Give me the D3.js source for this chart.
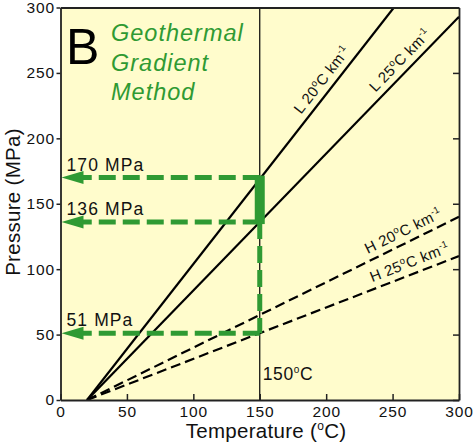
<!DOCTYPE html>
<html><head><meta charset="utf-8">
<script src="https://cdn.jsdelivr.net/npm/d3@7"></script>
<style>body{margin:0;background:#fff}svg{display:block}text{font-family:"Liberation Sans",Arial,sans-serif}</style>
</head><body><svg id="c" width="474" height="444"></svg>
<script>
// ---- data ----
const xTicks = [0, 50, 100, 150, 200, 250, 300];
const yTicks = [0, 50, 100, 150, 200, 250, 300];
const lineNames = ["L 20", "L 25", "H 20", "H 25"];
const lineStart = [[20, 0], [20, 0], [20, 0], [20, 0]];
const lineEnd = [[251, 300], [300, 293], [300, 140], [300, 110]];
const lineDashed = [false, false, true, true];
const labelT = [204, 262, 262, 266];   // temperature where each line label is centred
const refTemp = 150;
const readPressures = [170, 136, 51];
const readLabels = ["170 MPa", "136 MPa", "51 MPa"];
const titleLines = ["Geothermal", "Gradient", "Method"];

// ---- layout ----
const green = "#2f9a33";
const svg = d3.select("#c");
const m = {l: 60.5, r: 459, t: 7.5, b: 400};
const x = d3.scaleLinear().domain([0, 300]).range([m.l, m.r]);
const y = d3.scaleLinear().domain([0, 300]).range([m.b, m.t]);

svg.append("defs").append("clipPath").attr("id", "clip")
  .append("rect").attr("x", m.l).attr("y", m.t).attr("width", m.r - m.l).attr("height", m.b - m.t);

svg.append("rect").attr("x", m.l).attr("y", m.t).attr("width", m.r - m.l).attr("height", m.b - m.t)
  .attr("fill", "#fffccc");

const g = svg.append("g").attr("clip-path", "url(#clip)");

// 150 °C vertical
g.append("line").attr("x1", x(refTemp)).attr("x2", x(refTemp)).attr("y1", y(300)).attr("y2", y(0))
  .attr("stroke", "#000").attr("stroke-width", 1.2);

// gradient lines
lineNames.forEach((n, i) => {
  g.append("line")
    .attr("x1", x(lineStart[i][0])).attr("y1", y(lineStart[i][1]))
    .attr("x2", x(lineEnd[i][0])).attr("y2", y(lineEnd[i][1]))
    .attr("stroke", "#000").attr("stroke-width", 2.2)
    .attr("stroke-dasharray", lineDashed[i] ? "10,5" : null);
});

// green dashed arrows
readPressures.forEach((p, i) => {
  g.append("line").attr("x1", x(refTemp)).attr("x2", x(0) + 18)
    .attr("y1", y(p)).attr("y2", y(p))
    .attr("stroke", green).attr("stroke-width", 5).attr("stroke-dasharray", "17,7");
  const tipX = x(0) + 1, yy = y(p);
  g.append("path").attr("d", `M${tipX},${yy} L${tipX + 22},${yy - 6.5} L${tipX + 22},${yy + 6.5} Z`)
    .attr("fill", green);
  svg.append("text").attr("x", x(0) + 6).attr("y", y(p) - 7).attr("font-size", 17.5)
    .attr("letter-spacing", 1.1).attr("fill", "#111").text(readLabels[i]);
});
// vertical dashed green 136 -> 51
g.append("line").attr("x1", x(refTemp)).attr("x2", x(refTemp))
  .attr("y1", y(readPressures[1])).attr("y2", y(readPressures[2]))
  .attr("stroke", green).attr("stroke-width", 5).attr("stroke-dasharray", "17,7");
// thick bar 136-170
g.append("rect").attr("x", x(refTemp) - 5).attr("width", 10)
  .attr("y", y(readPressures[0]) - 2).attr("height", y(readPressures[1]) - y(readPressures[0]) + 4)
  .attr("fill", green);

// line labels
lineNames.forEach((n, i) => {
  const x0 = x(lineStart[i][0]), y0 = y(lineStart[i][1]);
  const x1 = x(lineEnd[i][0]), y1 = y(lineEnd[i][1]);
  const ang = Math.atan2(y1 - y0, x1 - x0) * 180 / Math.PI;
  const f = (labelT[i] - lineStart[i][0]) / (lineEnd[i][0] - lineStart[i][0]);
  const px = x0 + f * (x1 - x0), py = y0 + f * (y1 - y0);
  const t = svg.append("text").attr("transform", `translate(${px},${py}) rotate(${ang}) translate(0,-7)`)
    .attr("text-anchor", "middle").attr("font-size", 15).attr("letter-spacing", 0.3).attr("fill", "#111");
  t.append("tspan").text(n);
  t.append("tspan").attr("font-size", 9.5).attr("dy", -6).text("o");
  t.append("tspan").attr("dy", 6).text("C km");
  t.append("tspan").attr("font-size", 9.5).attr("dy", -6).text("-1");
});

// 150 °C label
const tl = svg.append("text").attr("x", x(refTemp) + 3).attr("y", 380).attr("font-size", 17.5)
  .attr("letter-spacing", 0.6).attr("fill", "#111");
tl.append("tspan").text("150");
tl.append("tspan").attr("font-size", 10).attr("dy", -7).text("o");
tl.append("tspan").attr("dy", 7).text("C");

// axes
const axCol = "#222";
const xa = svg.append("g").attr("transform", `translate(0,${m.b})`)
  .call(d3.axisBottom(x).tickValues(xTicks).tickSizeInner(-6).tickSizeOuter(0).tickPadding(6));
const ya = svg.append("g").attr("transform", `translate(${m.l},0)`)
  .call(d3.axisLeft(y).tickValues(yTicks).tickSize(4).tickSizeOuter(0).tickPadding(1.5));
const ra = svg.append("g").attr("transform", `translate(${m.r},0)`)
  .call(d3.axisRight(y).tickValues(yTicks).tickSize(-6).tickSizeOuter(0).tickFormat(""));
const ta = svg.append("g").attr("transform", `translate(0,${m.t})`)
  .call(d3.axisTop(x).tickValues([]).tickSizeOuter(0));
[xa, ya, ra, ta].forEach(a => {
  a.selectAll("path").attr("stroke", axCol).attr("stroke-width", 1.8);
  a.selectAll("line").attr("stroke", axCol).attr("stroke-width", 1.5);
  a.selectAll("text").attr("font-size", 15.5).attr("fill", "#111").attr("letter-spacing", 0.9)
    .attr("font-family", '"Liberation Sans",Arial,sans-serif');
});

// axis titles
const xt = svg.append("text").attr("x", 266).attr("y", 438).attr("text-anchor", "middle")
  .attr("font-size", 20.5).attr("letter-spacing", 0.3).attr("fill", "#111");
xt.append("tspan").text("Temperature (");
xt.append("tspan").attr("font-size", 12).attr("dy", -8).text("o");
xt.append("tspan").attr("dy", 8).text("C)");
svg.append("text").attr("transform", "translate(20,202) rotate(-90)").attr("text-anchor", "middle")
  .attr("font-size", 20.5).attr("letter-spacing", 0.3).attr("fill", "#111").text("Pressure (MPa)");

// panel label and title
svg.append("text").attr("x", 66).attr("y", 64).attr("font-size", 50).attr("fill", "#000").text("B");
titleLines.forEach((s, i) => {
  svg.append("text").attr("x", 111).attr("y", 41 + i * 29.5).attr("font-size", 23.5)
    .attr("letter-spacing", 1).attr("font-style", "italic").attr("fill", green).text(s);
});
</script></body></html>
